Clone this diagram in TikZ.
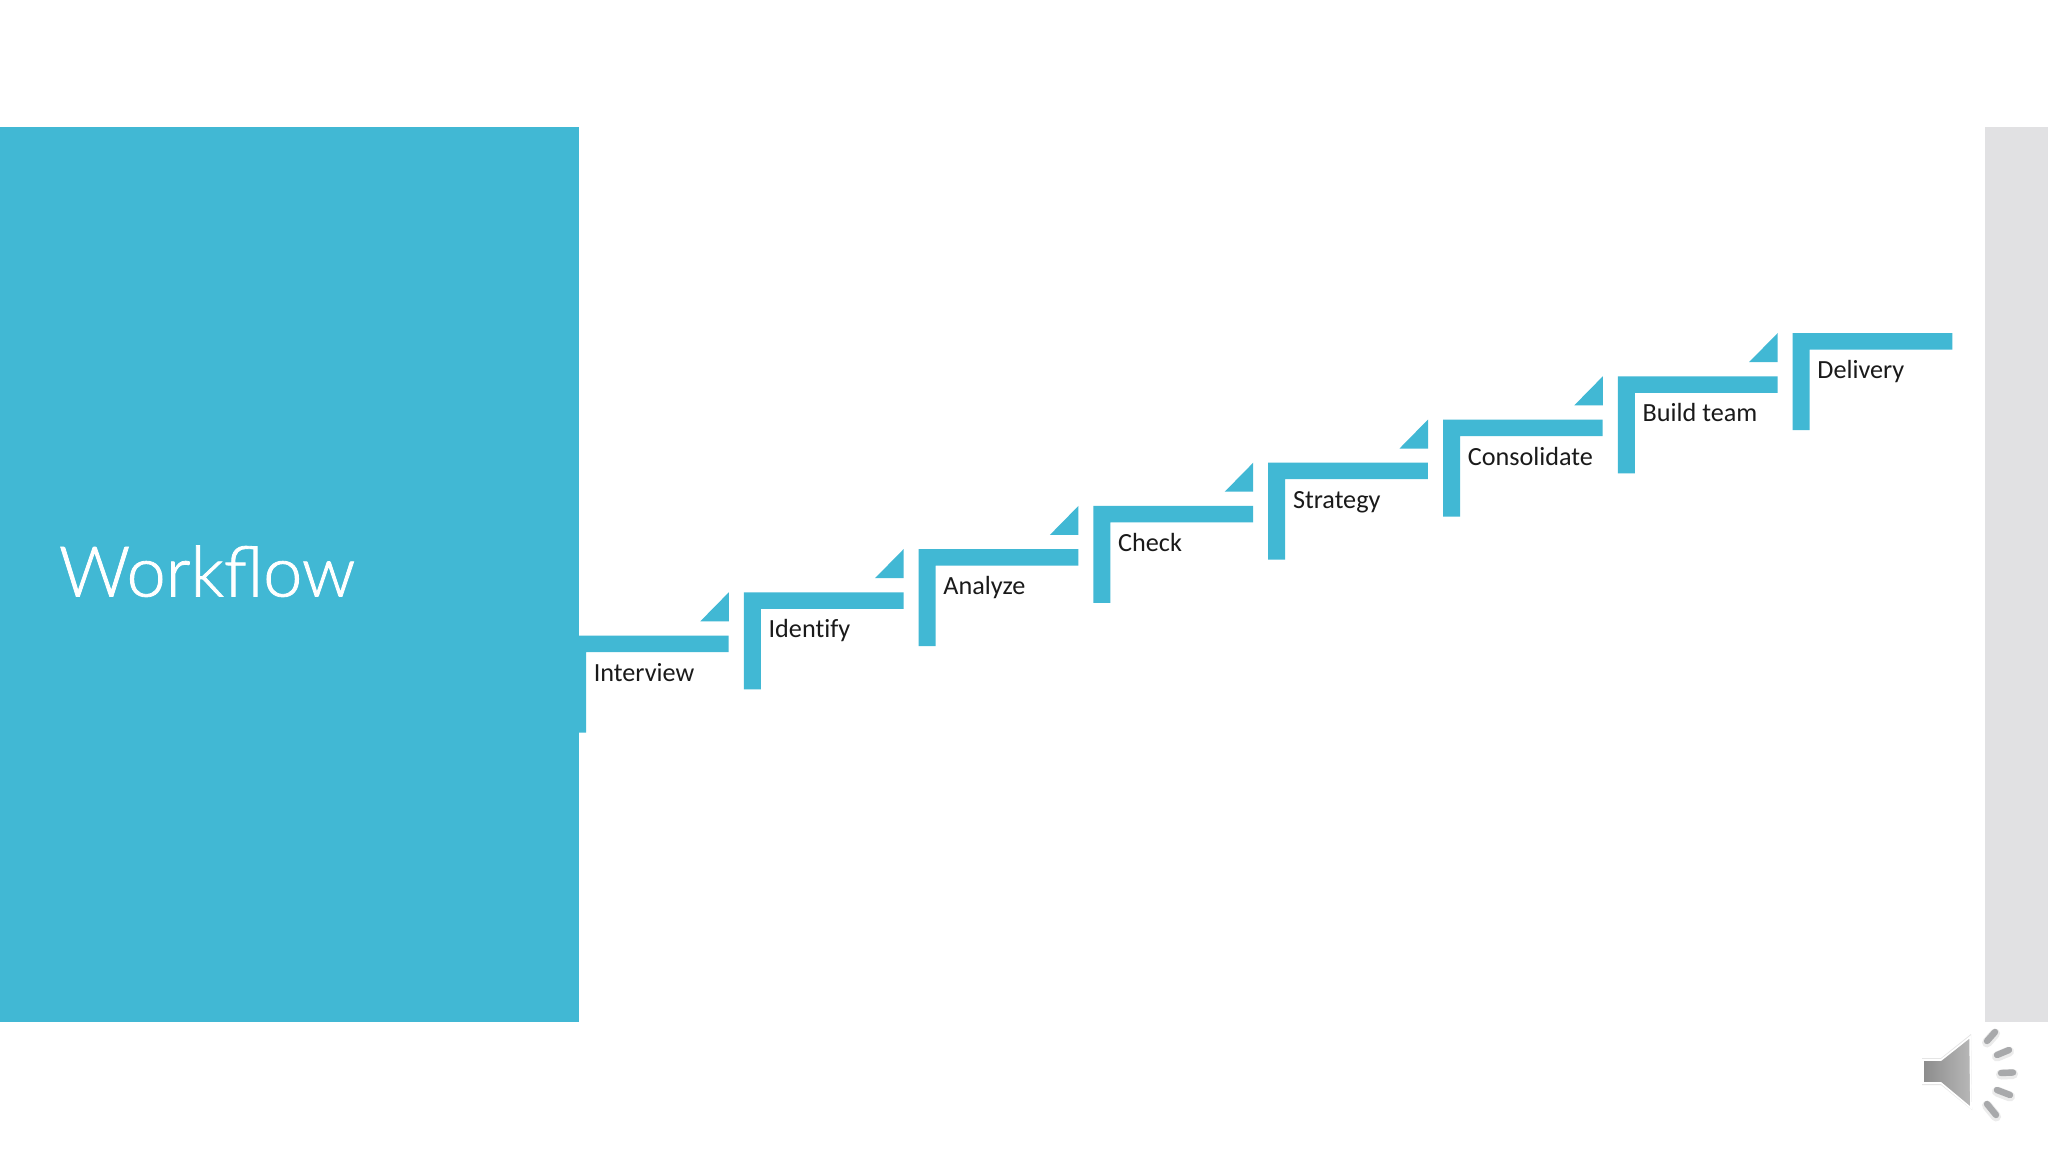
\documentclass[tikz,border=0pt]{standalone}
\usepackage{fontspec}
\setmainfont{Carlito}[Ligatures=NoCommon]
\newfontfamily\titlefont{Lato Light}[FakeBold=1.2]
\definecolor{teal1}{HTML}{41B8D4}
\definecolor{panelgray}{HTML}{E1E1E3}
\definecolor{inkc}{HTML}{1A1A1A}
\definecolor{spk}{HTML}{A8A9AB}
\tikzset{
  stair/.style={fill=teal1,draw=none},
  steplabel/.style={anchor=base west,inner sep=0pt,outer sep=0pt,text=inkc,font=\fontsize{13.1}{16}\selectfont},
  titlelabel/.style={anchor=base west,inner sep=0pt,outer sep=0pt,text=white,font=\titlefont\fontsize{35}{40}\selectfont},
  ray/.style={line width=3.2pt,line cap=round,draw=spk},
  rayhalo/.style={line width=5pt,line cap=round,draw=black!8},
}
\begin{document}
\begin{tikzpicture}[x=0.5pt,y=-0.5pt]
\useasboundingbox[fill=white] (0,0) rectangle (2048,1152);
% side panel
\fill[panelgray] (1984.5,127) rectangle (2048,1022);
% stairs
\foreach \i in {0,...,7}{
  \pgfmathsetmacro{\lx}{569+174.8*\i}
  \pgfmathsetmacro{\ty}{635.5-43.2*\i}
  \fill[stair] (\lx,\ty) -- ++(159.7,0) -- ++(0,16.5) -- ++(-142.7,0) -- ++(0,80.5) -- ++(-17,0) -- cycle;
  \ifnum\i>0
    \fill[stair] (\lx-15,\ty) -- ++(0,29) -- ++(-28.5,0) -- cycle;
  \fi
}
% main panel
\fill[teal1] (0,127) rectangle (579,1022);
% labels
\foreach \i/\lab in {0/Interview,1/Identify,2/Analyze,3/Check,4/Strategy,5/Consolidate,6/Build team,7/Delivery}{
  \pgfmathsetmacro{\lx}{569+174.8*\i}
  \pgfmathsetmacro{\ty}{635.5-43.2*\i}
  \node[steplabel] (step\i) at (\lx+24.8,\ty+45.6) {\lab};
}
\node[titlelabel] (title) at (59,596.5) {Workflow};
% speaker
\fill[black!10] (1922,1058) -- (1941,1058) -- (1971,1034) -- (1972,1110) -- (1941,1085) -- (1922,1085) -- cycle;
\shade[left color=black!45,right color=black!28,draw=white,line width=0.8pt]
  (1923,1060) -- (1941,1060) -- (1970,1037) -- (1971,1108) -- (1941,1083) -- (1923,1083) -- cycle;
\foreach \a/\b/\c/\d in {1987/1041/1995/1032,1997/1055/2009/1050,2001/1073/2013/1072.5,1997/1090/2010/1095,1987/1104/1996/1115}{
  \draw[rayhalo] (\a,\b+1.5) -- (\c,\d+1.5);
  \draw[ray] (\a,\b) -- (\c,\d);
}
\end{tikzpicture}
\end{document}
